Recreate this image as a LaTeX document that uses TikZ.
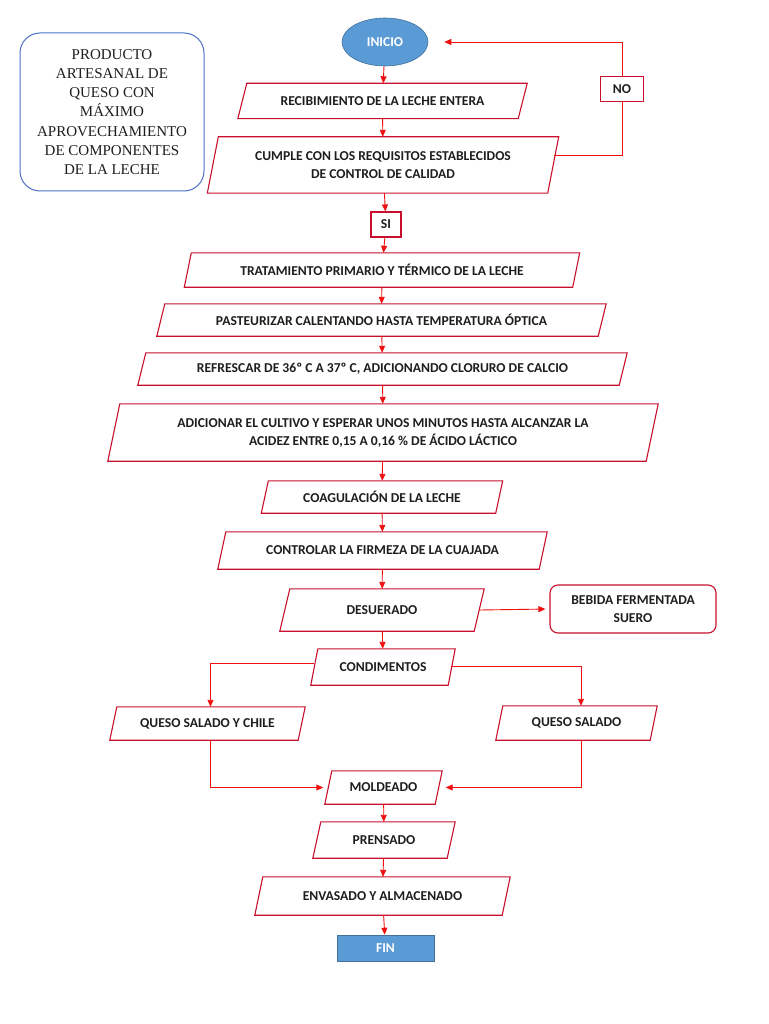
\documentclass[tikz,border=0pt]{standalone}
\usepackage{fontspec}
\setmainfont{Carlito}
\newfontfamily\boxserif{Liberation Serif}
\usetikzlibrary{arrows.meta,shapes.geometric,calc}
\definecolor{lred}{HTML}{F01010}
\definecolor{bred}{HTML}{C8102E}
\definecolor{ablue}{HTML}{5B9BD5}
\definecolor{bblue}{HTML}{41719C}
\definecolor{tblue}{HTML}{4A72C4}
\definecolor{txt}{HTML}{1E1E1E}
\begin{document}
\begin{tikzpicture}[x=1pt,y=-1pt,
  pnode/.style={rectangle,inner sep=0pt,align=center,text=txt,
    font=\bfseries\fontsize{13.6}{18}\selectfont},
  boxline/.style={draw=bred,line width=1.1pt,line join=miter},
  conn/.style={draw=lred,line width=0.9pt},
  arr/.style={conn,-{Triangle[width=6pt,length=7pt]}}]
\useasboundingbox (0,0) rectangle (768,1024);
\fill[white] (0,0) rectangle (768,1024);

% title box
\node[draw=tblue,line width=1pt,rounded corners=20pt,minimum width=184pt,minimum height=158pt,
  align=center,text=txt,font=\boxserif\fontsize{15}{19.2}\selectfont] (title) at (112,112)
  {PRODUCTO\\ARTESANAL DE\\QUESO CON\\MÁXIMO\\APROVECHAMIENTO\\DE COMPONENTES\\DE LA LECHE};

% start / end
\node[ellipse,fill=ablue,draw=bblue,line width=0.6pt,minimum width=86pt,minimum height=48pt,
  text=white,font=\bfseries\fontsize{13.6}{15}\selectfont] (inicio) at (385,42) {INICIO};
\node[rectangle,fill=ablue,draw=bblue,line width=0.6pt,minimum width=97pt,minimum height=26pt,
  text=white,font=\bfseries\fontsize{13.6}{15}\selectfont] (fin) at (385.5,948) {FIN};

% process steps
\node[pnode,minimum width=280pt,minimum height=35pt] (recib) at (382.5,101) {RECIBIMIENTO DE LA LECHE ENTERA};
\node[pnode,minimum width=340pt,minimum height=56pt] (cumple) at (383,165) {CUMPLE CON LOS REQUISITOS ESTABLECIDOS\\DE CONTROL DE CALIDAD};
\node[draw=bred,line width=1.1pt,minimum width=30pt,minimum height=25pt,inner sep=0pt,
  text=txt,font=\bfseries\fontsize{13.6}{15}\selectfont] (si) at (386,224.5) {SI};
\node[draw=bred,line width=1.1pt,minimum width=43pt,minimum height=25pt,inner sep=0pt,
  text=txt,font=\bfseries\fontsize{13.6}{15}\selectfont] (no) at (622,89) {NO};
\node[pnode,minimum width=388pt,minimum height=34pt] (trat) at (382,270) {TRATAMIENTO PRIMARIO Y TÉRMICO DE LA LECHE};
\node[pnode,minimum width=441pt,minimum height=32pt] (past) at (381.5,320) {PASTEURIZAR CALENTANDO HASTA TEMPERATURA ÓPTICA};
\node[pnode,minimum width=481pt,minimum height=32pt] (refr) at (382.5,369) {REFRESCAR DE 36º C A 37º C, ADICIONANDO CLORURO DE CALCIO};
\node[pnode,minimum width=538pt,minimum height=57pt] (adic) at (383,432.5) {ADICIONAR EL CULTIVO Y ESPERAR UNOS MINUTOS HASTA ALCANZAR LA\\ACIDEZ ENTRE 0,15 A 0,16 \% DE ÁCIDO LÁCTICO};
\node[pnode,minimum width=234pt,minimum height=32pt] (coag) at (382,497) {COAGULACIÓN DE LA LECHE};
\node[pnode,minimum width=321pt,minimum height=37pt] (contr) at (382.5,550.5) {CONTROLAR LA FIRMEZA DE LA CUAJADA};
\node[pnode,minimum width=194pt,minimum height=42pt] (desu) at (382,610) {DESUERADO};
\node[pnode,draw=bred,line width=1.1pt,rounded corners=8pt,minimum width=166pt,minimum height=48pt] (bebida) at (633,609) {BEBIDA FERMENTADA\\SUERO};
\node[pnode,minimum width=137pt,minimum height=36pt] (cond) at (383,667) {CONDIMENTOS};
\node[pnode,minimum width=188pt,minimum height=33pt] (chile) at (207.5,723.5) {QUESO SALADO Y CHILE};
\node[pnode,minimum width=154pt,minimum height=34pt] (salado) at (576.5,723) {QUESO SALADO};
\node[pnode,minimum width=110pt,minimum height=33pt] (mold) at (383.5,787.5) {MOLDEADO};
\node[pnode,minimum width=134pt,minimum height=36pt] (prens) at (384,840) {PRENSADO};
\node[pnode,minimum width=247pt,minimum height=38pt] (envas) at (382.5,896) {ENVASADO Y ALMACENADO};

% parallelogram outlines
\foreach \n/\s in {recib/9,cumple/11,trat/7,past/8,refr/8,adic/12,coag/7,contr/8,desu/10,cond/7,chile/7,salado/7,mold/7,prens/8,envas/8}
  \draw[boxline] ($(\n.north west)+(\s/2,0)$) -- ($(\n.north east)+(\s/2,0)$)
    -- ($(\n.south east)-(\s/2,0)$) -- ($(\n.south west)-(\s/2,0)$) -- cycle;

% connectors
\draw[arr] (inicio) -- (recib);
\draw[arr] (recib) -- (cumple);
\draw[arr] (cumple) -- (si);
\draw[arr] (si) -- (trat);
\draw[conn] ([xshift=1pt,yshift=10pt]cumple.east) -| (no.south);
\draw[arr,shorten >=16pt] (no.north) |- (inicio.east);
\draw[arr] (trat) -- (past);
\draw[arr] (past) -- (refr);
\draw[arr] (refr) -- (adic);
\draw[arr] (adic) -- (coag);
\draw[arr] (coag) -- (contr);
\draw[arr] (contr) -- (desu);
\draw[arr,shorten >=4pt] (desu.east) -- (bebida.west);
\draw[arr] (desu) -- (cond);
\draw[arr] ([yshift=4pt]cond.west) -| ([xshift=3pt]chile.north);
\draw[arr] ([yshift=1pt]cond.east) -| ([xshift=4.5pt]salado.north);
\draw[arr,shorten >=5pt] ([xshift=3pt]chile.south) |- (mold.west);
\draw[arr,shorten >=7pt] ([xshift=4.5pt]salado.south) |- (mold.east);
\draw[arr] (mold) -- (prens);
\draw[arr] (prens) -- (envas);
\draw[arr] (envas) -- (fin);
\end{tikzpicture}
\end{document}
